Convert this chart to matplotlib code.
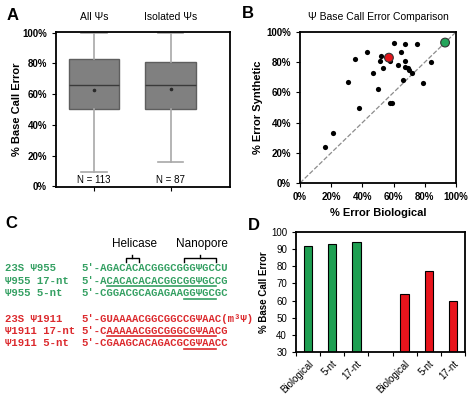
import matplotlib
matplotlib.use('Agg')
import matplotlib.pyplot as plt
import numpy as np

plt.rcParams['font.family'] = ['Liberation Sans', 'DejaVu Sans']

W, H = 474, 398

# ---- panel A: box plot summary
box_labels = ['All Ψs', 'Isolated Ψs']
box_n = [113, 87]
box_lo = [9, 16]
box_q1 = [50, 50]
box_med = [66, 66]
box_q3 = [83, 81]
box_hi = [100, 100]
box_mean = [63, 63.5]

# ---- panel B: biological vs synthetic error
bio = [16, 21, 38, 31, 35, 43, 50, 47, 52, 51, 53, 58, 59, 58, 60, 67, 75,
       65, 67, 63, 67, 69, 70, 72, 66, 79, 84]
syn = [24, 33, 50, 67, 82, 87, 62, 73, 84, 81, 76, 53, 53, 81, 93, 92, 92,
       87, 81, 78, 77, 76, 75, 73, 68, 66, 80]
hl_bio = [57, 93]
hl_syn = [83, 93]
hl_colors = ['#e3161b', '#23a55a']

# ---- panel C: sequences
green_names = ['23S Ψ955', 'Ψ955 17-nt', 'Ψ955 5-nt']
green_seqs = ['AGACACACGGGCGGGΨGCCU', 'ACACACACACGGCGGΨGCCG', 'CGGACGCAGAGAAGGΨGCGC']
green_under = [None, (1, 17), (13, 17)]
red_names = ['23S Ψ1911', 'Ψ1911 17-nt', 'Ψ1911 5-nt']
red_seqs = ['GUAAAACGGCGGCCGΨAAC(m³Ψ)', 'CAAAAACGGCGGGCGΨAACG', 'CGAAGCACAGACGCGΨAACC']
red_under = [None, (1, 17), (13, 17)]
helicase_nt = (4, 5)
nanopore_nt = (13, 17)

# ---- panel D: bars
d_labels = ['Biological', '5-nt', '17-nt', '', 'Biological', '5-nt', '17-nt']
green_vals = [92, 93, 94]
red_vals = [64, 77, 60]

GREEN_TXT = '#35a063'
RED_TXT = '#dc2a2e'

fig = plt.figure(figsize=(W / 100, H / 100), dpi=100)


def frac(l, t, r, b):
    return [l / W, 1 - b / H, (r - l) / W, (b - t) / H]


def style_frame(ax, lw=1.3):
    for s in ax.spines.values():
        s.set_linewidth(lw)
        s.set_color('black')


# panel C drawn in pixel coordinates on a full-figure axes
axc = fig.add_axes([0, 0, 1, 1], zorder=-1)
axc.set_xlim(0, W)
axc.set_ylim(H, 0)
axc.axis('off')

fs_seq = 7.7
cw = 0.6 * fs_seq * 100 / 72
x_name = 5
x_seq = 81
mono = ['Liberation Mono', 'DejaVu Sans Mono']


def seq_block(names, seqs, unders, ys, color):
    for name, seq, und, y in zip(names, seqs, unders, ys):
        axc.text(x_name, y, name, family=mono, fontsize=fs_seq, weight='bold',
                 color=color, va='center', ha='left')
        axc.text(x_seq, y, "5'-" + seq, family=mono, fontsize=fs_seq,
                 weight='bold', color=color, va='center', ha='left')
        if und is not None:
            x0 = x_seq + (3 + und[0]) * cw
            x1 = x_seq + (3 + und[1] + 1) * cw
            axc.plot([x0, x1], [y + 5, y + 5], color=color, lw=1.2)


seq_block(green_names, green_seqs, green_under, [268, 281, 293.5], GREEN_TXT)
seq_block(red_names, red_seqs, red_under, [319, 331, 343.5], RED_TXT)

for lab, (a, b) in [('Helicase', helicase_nt), ('Nanopore', nanopore_nt)]:
    x0 = x_seq + (3 + a) * cw
    x1 = x_seq + (3 + b + 1) * cw
    xm = (x0 + x1) / 2
    axc.plot([x0, x0, x1, x1], [262, 258, 258, 262], color='black', lw=1)
    axc.plot([xm, xm], [258, 254.5], color='black', lw=1)
    axc.text(xm + 2, 244, lab, fontsize=8.5, ha='center', va='center')

# panel letters
for lab, x, y in [('A', 13, 15), ('B', 248, 14), ('C', 11, 223), ('D', 254, 225)]:
    axc.text(x, y, lab, fontsize=12, weight='bold', ha='center', va='center')

# ---- panel A
axa = fig.add_axes(frac(56, 32, 230, 187))
stats = []
for i in range(len(box_labels)):
    stats.append(dict(whislo=box_lo[i], q1=box_q1[i], med=box_med[i],
                      q3=box_q3[i], whishi=box_hi[i], mean=box_mean[i], fliers=[]))
pos = [1, 2]
axa.bxp(stats, positions=pos, widths=0.66, showmeans=True, patch_artist=True,
        capwidths=0.33,
        boxprops=dict(facecolor='#808080', edgecolor='#5e5e5e', lw=1),
        medianprops=dict(color='#3a3a3a', lw=1),
        whiskerprops=dict(color='#a8a8a8', lw=1.2),
        capprops=dict(color='#a8a8a8', lw=1.2),
        meanprops=dict(marker='o', markersize=1.6, markerfacecolor='#2a2a2a',
                       markeredgecolor='#2a2a2a'))
axa.set_xlim(0.507, 2.77)
axa.set_ylim(-0.5, 100.5)
axa.set_yticks(np.arange(0, 101, 20))
axa.set_yticklabels(['%d%%' % v for v in range(0, 101, 20)], fontsize=7, weight='bold')
axa.set_xticks(pos)
axa.set_xticklabels([])
axa.tick_params(direction='out', length=3, width=0.8)
axa.set_ylabel('% Base Call Error', fontsize=8, weight='bold', labelpad=0.5)
for p, lab, n in zip(pos, box_labels, box_n):
    axa.text(p, 1.097, lab, transform=axa.get_xaxis_transform(), fontsize=7.5,
             ha='center', va='center')
    axa.text(p, 0.5, 'N = %d' % n, fontsize=7, ha='center', va='bottom')
style_frame(axa)

# ---- panel B
axb = fig.add_axes(frac(300, 32, 456, 183))
axb.plot([0, 100], [0, 100], ls='--', color='#8c8c8c', lw=0.9, zorder=1)
axb.scatter(bio, syn, s=14, color='black', zorder=2, linewidths=0)
axb.scatter(hl_bio, hl_syn, s=40, c=hl_colors, edgecolors='#333333',
            linewidths=0.8, zorder=3)
axb.set_xlim(0, 100)
axb.set_ylim(0, 100)
ticks = np.arange(0, 101, 20)
axb.set_xticks(ticks)
axb.set_yticks(ticks)
axb.set_xticklabels(['%d%%' % v for v in ticks], fontsize=7, weight='bold')
axb.set_yticklabels(['%d%%' % v for v in ticks], fontsize=7, weight='bold')
axb.tick_params(direction='out', length=3, width=0.8)
axb.set_xlabel('% Error Biological', fontsize=8, weight='bold', labelpad=4)
axb.set_ylabel('% Error Synthetic', fontsize=8, weight='bold', labelpad=2)
axb.text(0.5, 1.10, 'Ψ Base Call Error Comparison', transform=axb.transAxes,
         fontsize=7.5, ha='center', va='center')
style_frame(axb)

# ---- panel D
axd = fig.add_axes(frac(296, 232, 465, 352))
xg = np.arange(len(green_vals))
xr = np.arange(len(red_vals)) + len(green_vals) + 1
axd.bar(xg, green_vals, width=0.35, color='#1e9f52', edgecolor='black', lw=0.8)
axd.bar(xr, red_vals, width=0.35, color='#e8141c', edgecolor='black', lw=0.8)
axd.set_xlim(-0.5, len(d_labels) - 0.5)
axd.set_ylim(30, 100)
axd.set_yticks(np.arange(30, 101, 10))
axd.tick_params(axis='y', labelsize=7, direction='out', length=3, width=0.8)
axd.set_xticks(np.arange(len(d_labels)))
axd.set_xticklabels(d_labels, rotation=45, ha='right', rotation_mode='anchor',
                    fontsize=7)
axd.tick_params(axis='x', which='major', length=0, pad=5)
axd.set_xticks(np.arange(len(d_labels) + 1) - 0.5, minor=True)
axd.tick_params(axis='x', which='minor', direction='out', length=3, width=0.8)
axd.set_ylabel('% Base Call Error', fontsize=7, weight='bold', labelpad=1)
style_frame(axd)

fig.savefig('out.png', dpi=100)
